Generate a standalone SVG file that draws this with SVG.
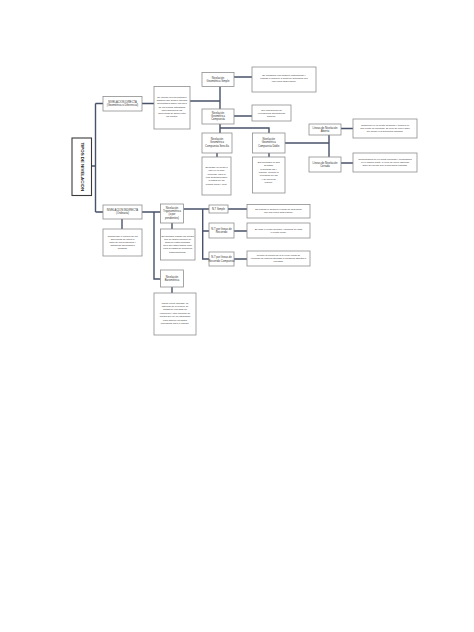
<svg xmlns="http://www.w3.org/2000/svg" width="474" height="632" viewBox="0 0 474 632">
<style>
.b{fill:#fff;stroke:#8e8e8e;stroke-width:0.8}
.bt{fill:#fff;stroke:#3a3a3a;stroke-width:1.1}
.c{fill:none;stroke:#48526a;stroke-width:1.4}
text{font-family:"Liberation Sans",Arial,sans-serif;fill:#333;text-anchor:middle}
.t{font-size:2.7px}
.d{font-size:2.4px}
.h{font-size:4.4px;font-weight:bold;fill:#222}
</style>
<rect width="474" height="632" fill="#fff"/>
<g id="connectors">
<path class="c" d="M91.5,166 H95.5 M95.5,103.5 V212 M95.5,103.5 H103 M95.5,212 H103"/>
<path class="c" d="M142,103.5 H154 M190,101 H220 M220,86.5 V133 M220,128 H269 V133"/>
<path class="c" d="M234,77 H252 M234,116 H252 M217,153 V157 M269,153 V157"/>
<path class="c" d="M285,143 H329 M329,135 V157 M341,128.5 H353 M341,163 H353"/>
<path class="c" d="M142,212 H160.5 M154,212 V279 H160.5 M122,219 V229 M172,223 V229 M172,287 V293"/>
<path class="c" d="M183.5,209 H209 M202.7,209 V259 H209 M202.7,231 H209 M228,209 H247 M234,231 H247 M234,259 H247"/>
</g>
<g id="title"><rect class="bt" x="72" y="138" width="19.5" height="57.5"/><text class="h" transform="translate(82,166.8) rotate(90)" dominant-baseline="middle">TIPOS DE NIVELACION</text></g>
<g id="directa"><rect class="b" x="103" y="96.5" width="39" height="14.5"/><text class="t" x="122.5" y="103"><tspan x="122.5">NIVELACION DIRECTA</tspan><tspan x="122.5" dy="3.4">(Geométrica o Diferencial)</tspan></text></g>
<g id="directa-desc"><rect class="b" x="154" y="86.5" width="36" height="42.5"/><text class="d" x="172" y="98"><tspan x="172">Se utilizan niveles ópticos o</tspan><tspan x="172" dy="3.2">digitales que dirigen visuales</tspan><tspan x="172" dy="3.2">horizontales sobre una mira</tspan><tspan x="172" dy="3.2">de los puntos estudiados</tspan><tspan x="172" dy="3.2">para determinar las</tspan><tspan x="172" dy="3.2">diferencias de altura entre</tspan><tspan x="172" dy="3.2">los puntos.</tspan></text></g>
<g id="simple"><rect class="b" x="202" y="72.5" width="32" height="14"/><text class="t" x="218" y="78.5"><tspan x="218">Nivelación</tspan><tspan x="218" dy="3.3">Geométrica Simple</tspan></text></g>
<g id="simple-desc"><rect class="b" x="252" y="67" width="64" height="25"/><text class="d" x="284" y="76"><tspan x="284">Se considera una posición instrumental y</tspan><tspan x="284" dy="3.2">cuando el desnivel a medir se determina con</tspan><tspan x="284" dy="3.2">una única observación.</tspan></text></g>
<g id="compuesta"><rect class="b" x="202" y="109" width="32" height="15"/><text class="t" x="218" y="113.5"><tspan x="218">Nivelación</tspan><tspan x="218" dy="3.2">Geométrica</tspan><tspan x="218" dy="3.2">Compuesta</tspan></text></g>
<g id="compuesta-desc"><rect class="b" x="252" y="105" width="39" height="16"/><text class="d" x="271.5" y="110.5"><tspan x="271.5">son repeticiones de</tspan><tspan x="271.5" dy="3.2">nivelaciones geométricas</tspan><tspan x="271.5" dy="3.2">simples.</tspan></text></g>
<g id="sencilla"><rect class="b" x="202" y="133" width="30" height="20"/><text class="t" x="217" y="140"><tspan x="217">Nivelación</tspan><tspan x="217" dy="3.3">Geométrica</tspan><tspan x="217" dy="3.3">Compuesta Sencilla</tspan></text></g>
<g id="sencilla-desc"><rect class="b" x="202" y="157" width="29" height="38"/><text class="d" x="216.5" y="168"><tspan x="216.5">Es desde un punto a</tspan><tspan x="216.5" dy="3.3">otro en un solo</tspan><tspan x="216.5" dy="3.3">recorrido, para lo</tspan><tspan x="216.5" dy="3.3">cual debemos saber</tspan><tspan x="216.5" dy="3.3">la altitud de los</tspan><tspan x="216.5" dy="3.3">puntos inicial y final.</tspan></text></g>
<g id="doble"><rect class="b" x="252.5" y="133" width="32.5" height="20"/><text class="t" x="268.7" y="140"><tspan x="268.7">Nivelación</tspan><tspan x="268.7" dy="3.3">Geométrica</tspan><tspan x="268.7" dy="3.3">Compuesta Doble</tspan></text></g>
<g id="doble-desc"><rect class="b" x="252.5" y="157" width="32.5" height="36"/><text class="d" x="268.7" y="163"><tspan x="268.7">Es efectuada en dos</tspan><tspan x="268.7" dy="3.3">sentidos:</tspan><tspan x="268.7" dy="3.3">realizando ida y</tspan><tspan x="268.7" dy="3.3">regreso, permite la</tspan><tspan x="268.7" dy="3.3">nivelación de ida</tspan><tspan x="268.7" dy="3.3">y se cierra de</tspan><tspan x="268.7" dy="3.3">retorno.</tspan></text></g>
<g id="abierta"><rect class="b" x="309" y="124" width="32" height="11"/><text class="t" x="325" y="128.5"><tspan x="325">Líneas de Nivelación</tspan><tspan x="325" dy="3.2">Abierta</tspan></text></g>
<g id="abierta-desc"><rect class="b" x="353" y="119" width="64" height="19"/><text class="d" x="385" y="125.5"><tspan x="385">Comienza en un punto conocido y termina en</tspan><tspan x="385" dy="3.2">otro punto no conocido. El error de cierre debe</tspan><tspan x="385" dy="3.2">ser menor a la tolerancia indicada.</tspan></text></g>
<g id="cerrada"><rect class="b" x="309" y="157" width="32" height="15"/><text class="t" x="325" y="163.5"><tspan x="325">Líneas de Nivelación</tspan><tspan x="325" dy="3.2">Cerrada</tspan></text></g>
<g id="cerrada-desc"><rect class="b" x="353" y="153" width="64" height="19"/><text class="d" x="385" y="159.5"><tspan x="385">Comenzamos en un punto conocido y terminamos</tspan><tspan x="385" dy="3.2">en el mismo punto, el error de cierre obtenido</tspan><tspan x="385" dy="3.2">debe ser menor que la tolerancia indicada.</tspan></text></g>
<g id="indirecta"><rect class="b" x="103" y="205" width="39" height="14"/><text class="t" x="122.5" y="211"><tspan x="122.5">NIVELACION INDIRECTA</tspan><tspan x="122.5" dy="3.3">(Ordinaria)</tspan></text></g>
<g id="indirecta-desc"><rect class="b" x="103" y="229" width="39" height="27"/><text class="d" x="122.5" y="236.5"><tspan x="122.5">Comprende el cálculo de las</tspan><tspan x="122.5" dy="3.2">diferencias de altura a</tspan><tspan x="122.5" dy="3.2">partir de las pendientes y</tspan><tspan x="122.5" dy="3.2">distancias horizontales</tspan><tspan x="122.5" dy="3.2">medidas.</tspan></text></g>
<g id="trigonometrica"><rect class="b" x="160.5" y="204" width="23" height="19"/><text class="t" x="172" y="209"><tspan x="172">Nivelación</tspan><tspan x="172" dy="3.2">Trigonométrica</tspan><tspan x="172" dy="3.2">(o por</tspan><tspan x="172" dy="3.2">pendientes)</tspan></text></g>
<g id="trigonometrica-desc"><rect class="b" x="160.5" y="229" width="34.5" height="31" /><text class="d" x="177.7" y="236.5"><tspan x="177.7">Es utilizada cuando los puntos</tspan><tspan x="177.7" dy="3.2">que se desea conocer su</tspan><tspan x="177.7" dy="3.2">desnivel están alejados,</tspan><tspan x="177.7" dy="3.2">pero son observables entre</tspan><tspan x="177.7" dy="3.2">ellos ayudado de funciones</tspan><tspan x="177.7" dy="3.2">trigonométricas.</tspan></text></g>
<g id="nt-simple"><rect class="b" x="209" y="205" width="19" height="8"/><text class="t" x="218.5" y="210">N.T Simple</text></g>
<g id="nt-simple-desc"><rect class="b" x="247" y="204.5" width="63" height="13.5"/><text class="d" x="278.5" y="210"><tspan x="278.5">Es cuando el desnivel a medir se determina</tspan><tspan x="278.5" dy="3.2">con una única observación.</tspan></text></g>
<g id="nt-recorrido"><rect class="b" x="209" y="223" width="25" height="15"/><text class="t" x="221.5" y="230"><tspan x="221.5">N.T por líneas de</tspan><tspan x="221.5" dy="3.2">Recorrido</tspan></text></g>
<g id="nt-recorrido-desc"><rect class="b" x="247" y="223" width="63" height="15"/><text class="d" x="278.5" y="229.5"><tspan x="278.5">Se mide el punto opuesto y después se mide</tspan><tspan x="278.5" dy="3.2">el punto inicial.</tspan></text></g>
<g id="nt-compuesto"><rect class="b" x="209" y="252" width="25" height="14"/><text class="t" x="221.5" y="258.3"><tspan x="221.5">N.T por líneas de</tspan><tspan x="221.5" dy="3.2">Recorrido Compuesto</tspan></text></g>
<g id="nt-compuesto-desc"><rect class="b" x="247" y="251" width="63" height="15"/><text class="d" x="278.5" y="255.6"><tspan x="278.5">Repetir la técnica de la N.T por líneas de</tspan><tspan x="278.5" dy="3.2">recorrido de manera aplicada a polígonos abiertos o</tspan><tspan x="278.5" dy="3.2">cerrados.</tspan></text></g>
<g id="barometrica"><rect class="b" x="160.5" y="270" width="23" height="17"/><text class="t" x="172" y="277.5"><tspan x="172">Nivelación</tspan><tspan x="172" dy="3.3">Barométrica</tspan></text></g>
<g id="barometrica-desc"><rect class="b" x="154" y="293" width="42" height="42"/><text class="d" x="175" y="303.5"><tspan x="175">pocas veces utilizada, es</tspan><tspan x="175" dy="3.4">obtenido de la lectura, se</tspan><tspan x="175" dy="3.4">establece una base de</tspan><tspan x="175" dy="3.4">referencia y otro conjunto de</tspan><tspan x="175" dy="3.4">puntos que se va estudiando</tspan><tspan x="175" dy="3.4">para obtener los datos</tspan><tspan x="175" dy="3.4">necesarios para el estudio.</tspan></text></g>
</svg>
